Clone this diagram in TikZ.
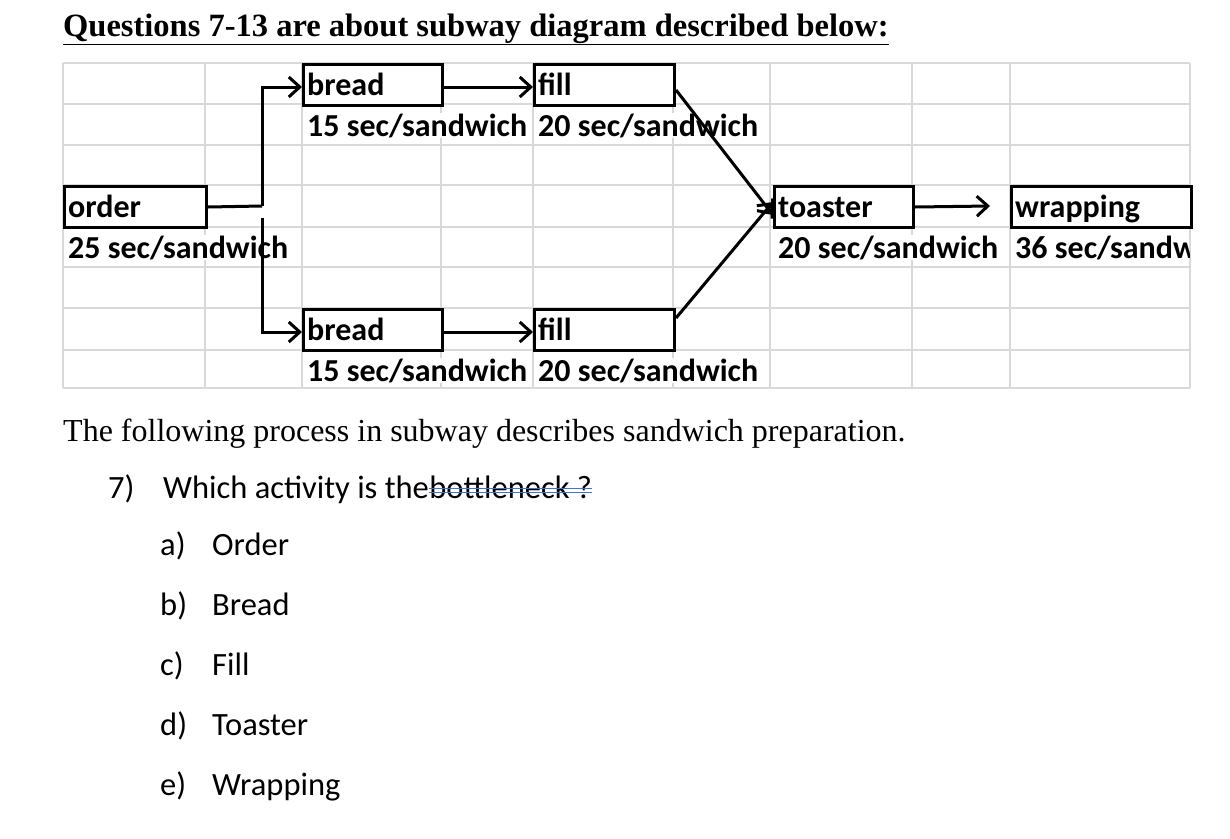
\documentclass[tikz,border=0pt]{standalone}
\usepackage{fontspec}
\setmainfont{Liberation Serif}
\newfontfamily\calfnt{Carlito}
\usetikzlibrary{arrows.meta}
\definecolor{gridc}{HTML}{D9D9D9}
\definecolor{ulc}{HTML}{4472C4}
\begin{document}
\begin{tikzpicture}[x=1pt,y=-1pt,
  box/.style={draw=black,line width=3pt,minimum width=#1,minimum height=41pt,inner sep=0pt,anchor=north west},
  lbl/.style={font=\calfnt\bfseries\fontsize{32}{34}\selectfont,anchor=base west,inner sep=1pt,fill=white},
  con/.style={line width=3pt,-{Straight Barb[length=11pt,width=20pt,line width=3pt]}},
  txt/.style={font=\calfnt\fontsize{32.5}{34}\selectfont,anchor=base west,inner sep=0pt}]
\useasboundingbox (0,0) rectangle (1230,838);
\fill[white] (0,0) rectangle (1230,838);
% grid
\begin{scope}[gridc,line width=2pt]
\foreach \y in {63,104,145,185,227,267,308,350,388} \draw (63,\y) -- (1190,\y);
\foreach \x in {63,205,302,441,533,673,770,912,1010,1190} \draw (\x,63) -- (\x,388);
\end{scope}
% title
\node[anchor=base west,inner sep=0pt,font=\bfseries\fontsize{32.5}{34}\selectfont] (title) at (63,36) {\underline{Questions 7-13 are about subway diagram described below:}};
% labels
\node[lbl] (l1) at (306,136) {15 sec/sandwich};
\node[lbl] (l2) at (537,136) {20 sec/sandwich};
\node[lbl] (l3) at (67,258) {25 sec/sandwich};
\node[lbl] (l4) at (777,258) {20 sec/sandwich};
\node[lbl] (l7) at (306,381) {15 sec/sandwich};
\node[lbl] (l8) at (537,381) {20 sec/sandwich};
\begin{scope}
\clip (0,0) rectangle (1189,838);
\node[lbl] (l5) at (1014,258) {36 sec/sandwich};
\end{scope}
% boxes
\node[box=139pt,fill=white] (b1) at (302,63) {};
\node[box=140pt,fill=white] (f1) at (533,63) {};
\node[box=142pt,fill=white] (o) at (63,185) {};
\node[box=139pt,fill=white] (t) at (773,185) {};
\node[box=180pt,fill=white] (w) at (1010,185) {};
\node[box=139pt,fill=white] (b2) at (302,308) {};
\node[box=140pt,fill=white] (f2) at (533,308) {};
\foreach \n/\s in {b1/bread,f1/fill,o/order,t/toaster,w/wrapping,b2/bread,f2/fill}
  \node[lbl,fill=none] at ([xshift=4pt,yshift=-10pt]\n.west) {\s};
% connectors
\coordinate (j1) at (262,206);
\coordinate (j2) at (262,218);
\draw[line width=3pt] (o.east) -- (j1);
\draw[con] (j1) |- ([yshift=-2pt]b1.west);
\draw[con] (j2) |- ([yshift=-2pt]b2.west);
\draw[con] ([yshift=-2pt]b1.east) -- ([yshift=-2pt]f1.west);
\draw[con] ([yshift=-2pt]b2.east) -- ([yshift=-2pt]f2.west);
\draw[con] ([yshift=-5pt]f1.east) -- ([yshift=-8pt]t.west);
\draw[con] ([yshift=12pt]f2.east) -- ([yshift=5pt]t.west);
\coordinate (wa) at (990,206);
\draw[con] (t.east) -- (wa);
% text
\node[anchor=base west,inner sep=0pt,font=\fontsize{32}{34}\selectfont] (p) at (63,441) {The following process in subway describes sandwich preparation.};
\node[txt] (q) at (108,498) {7)};
\node[txt] (qt) at (163,498) {Which activity is the\ };
\node[txt,anchor=base west] (qb) at (qt.base east) {bottleneck ?};
\draw[ulc,line width=1pt] ([yshift=6pt]qb.base west) -- ([yshift=6pt]qb.base east) ([yshift=10pt]qb.base west) -- ([yshift=10pt]qb.base east);
\foreach \l/\t/\y in {a/Order/555,b/Bread/615,c/Fill/675,d/Toaster/735,e/Wrapping/795}{
  \node[txt] (i\l) at (160,\y) {\l)};
  \node[txt] (t\l) at (212,\y) {\t};
}
\end{tikzpicture}
\end{document}
